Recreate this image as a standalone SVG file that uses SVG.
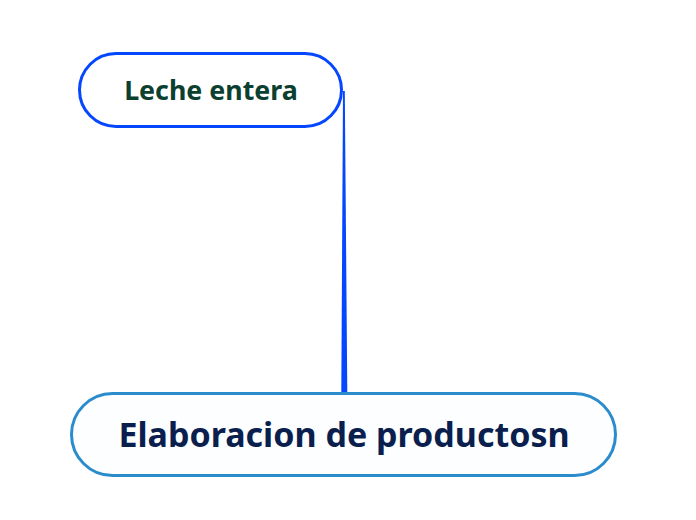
<svg xmlns="http://www.w3.org/2000/svg" width="696" height="520" viewBox="0 0 696 520">
<style>
.t{font-family:"Noto Sans","Open Sans","Liberation Sans",sans-serif;font-weight:bold;text-anchor:middle}
</style>
<rect width="696" height="520" fill="#ffffff"/>
<g id="connectors">
<polygon points="343,91 344.8,91 347.3,393 341.3,393" fill="#0546ff"/>
</g>
<g id="node-leche">
<rect x="79.5" y="53.5" width="262" height="73" rx="36.5" fill="#ffffff" stroke="#0546ff" stroke-width="3"/>
<text class="t" x="211" y="99.5" font-size="26.8" fill="#0b4030">Leche entera</text>
</g>
<g id="node-elaboracion">
<rect x="71.5" y="393.5" width="544" height="82" rx="41" fill="#fcfeff" stroke="#2a8ccc" stroke-width="3"/>
<text class="t" x="344" y="447" font-size="34" fill="#0a1f4d">Elaboracion de productosn</text>
</g>
</svg>
